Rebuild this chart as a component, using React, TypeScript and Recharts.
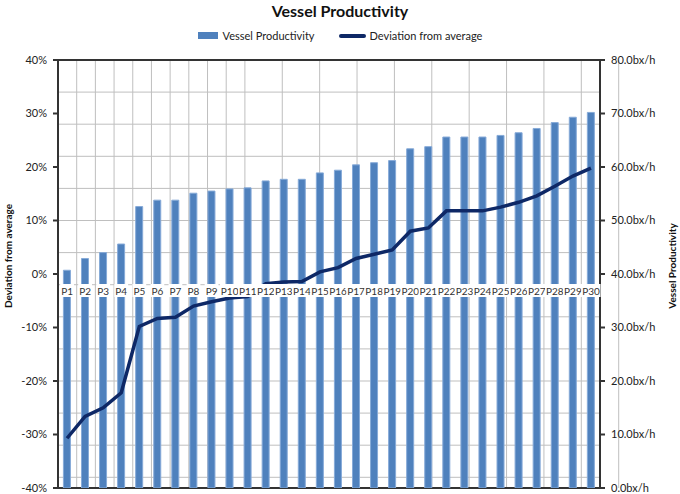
import React from 'react';
import {
  ComposedChart,
  Bar,
  Line,
  XAxis,
  YAxis,
  CartesianGrid,
  ReferenceArea,
  Legend,
  LabelList,
} from 'recharts';

const categories = [
  'P1', 'P2', 'P3', 'P4', 'P5', 'P6', 'P7', 'P8', 'P9', 'P10',
  'P11', 'P12', 'P13', 'P14', 'P15', 'P16', 'P17', 'P18', 'P19', 'P20',
  'P21', 'P22', 'P23', 'P24', 'P25', 'P26', 'P27', 'P28', 'P29', 'P30',
];

const productivity = [
  40.7, 42.9, 44.0, 45.6, 52.6, 53.8, 53.8, 55.1, 55.5, 55.9,
  56.1, 57.4, 57.7, 57.7, 58.9, 59.4, 60.4, 60.8, 61.2, 63.4,
  63.8, 65.6, 65.6, 65.6, 65.9, 66.4, 67.2, 68.3, 69.3, 70.2,
];

const deviation = [
  -30.7, -26.6, -25.0, -22.2, -9.8, -8.3, -8.1, -6.0, -5.2, -4.5,
  -4.2, -1.8, -1.5, -1.4, 0.4, 1.2, 2.9, 3.7, 4.5, 8.0,
  8.6, 11.8, 11.8, 11.8, 12.5, 13.4, 14.6, 16.4, 18.3, 19.8,
];

// category labels sit on the 0% line
const labelRow = [
  0, 0, 0, 0, 0, 0, 0, 0, 0, 0,
  0, 0, 0, 0, 0, 0, 0, 0, 0, 0,
  0, 0, 0, 0, 0, 0, 0, 0, 0, 0,
];

const deviationTicks = [-40, -30, -20, -10, 0, 10, 20, 30, 40];
const productivityTicks = [0, 10, 20, 30, 40, 50, 60, 70, 80];
const minorGridTicks = [
  -40, -38, -36, -34, -32, -30, -28, -26, -24, -22, -20, -18, -16, -14, -12,
  -10, -8, -6, -4, -2, 0, 2, 4, 6, 8, 10, 12, 14, 16, 18, 20, 22, 24, 26, 28,
  30, 32, 34, 36, 38, 40,
];
const categoryBoundaries = [
  0, 1, 2, 3, 4, 5, 6, 7, 8, 9, 10, 11, 12, 13, 14, 15,
  16, 17, 18, 19, 20, 21, 22, 23, 24, 25, 26, 27, 28, 29, 30,
];

const data = categories.map((name, i) => ({
  name,
  productivity: productivity[i],
  deviation: deviation[i],
  labelRow: labelRow[i],
}));

const FONT = 'Lato, "Open Sans", sans-serif';
const BAR_COLOR = '#4F81BD';
const LINE_COLOR = '#0E2866';
const AXIS_COLOR = '#333333';
const GRID_COLOR = '#BFBFBF';

const CategoryLabel = (props: any) => {
  const { x, y, value } = props;
  if (x == null || y == null) return null;
  const text = String(value);
  const w = text.length * 5.4 + 3;
  return (
    <g>
      <rect x={x - w / 2} y={y + 10} width={w} height={13} fill="#ffffff" />
      <text
        x={x}
        y={y + 20.5}
        textAnchor="middle"
        fontSize={10}
        fill="#333"
        fontFamily={FONT}
      >
        {text}
      </text>
    </g>
  );
};

const LegendContent = () => (
  <div
    style={{
      display: 'flex',
      justifyContent: 'center',
      alignItems: 'center',
      fontFamily: FONT,
      fontSize: 11,
      color: '#222',
    }}
  >
    <div style={{ display: 'flex', alignItems: 'center', marginRight: 24 }}>
      <span
        style={{
          display: 'inline-block',
          width: 20,
          height: 7,
          background: BAR_COLOR,
          marginRight: 5,
        }}
      />
      <span>Vessel Productivity</span>
    </div>
    <div style={{ display: 'flex', alignItems: 'center' }}>
      <span
        style={{
          display: 'inline-block',
          width: 27,
          height: 4,
          borderRadius: 2,
          background: LINE_COLOR,
          marginRight: 4,
        }}
      />
      <span>Deviation from average</span>
    </div>
  </div>
);

const AxisTitle = (props: any) => {
  const { viewBox, value, dxPos, cy } = props;
  if (!viewBox) return null;
  const x = viewBox.x + dxPos;
  const y = cy;
  return (
    <text
      x={x}
      y={y}
      transform={`rotate(-90, ${x}, ${y})`}
      textAnchor="middle"
      dominantBaseline="central"
      fontSize={10}
      fontWeight={700}
      fill="#111"
      fontFamily={FONT}
    >
      {value}
    </text>
  );
};

export default function App() {
  return (
    <div style={{ position: 'absolute', left: 0, top: 0, width: 680, height: 494 }}>
      <div
        style={{
          position: 'absolute',
          left: 0,
          top: 0,
          width: 680,
          textAlign: 'center',
          fontFamily: FONT,
          fontWeight: 700,
          fontSize: 16,
          lineHeight: '22px',
          color: '#111',
        }}
      >
        Vessel Productivity
      </div>
      <ComposedChart
        width={680}
        height={494}
        data={data}
        margin={{ top: 60, right: 0, bottom: 6, left: 0 }}
        barCategoryGap="30%"
      >
        <CartesianGrid
          xAxisId="grid"
          yAxisId="grid"
          stroke={GRID_COLOR}
          strokeWidth={1}
        />
        <XAxis dataKey="name" hide height={0} />
        <XAxis
          xAxisId="grid"
          type="number"
          domain={[0, 30]}
          ticks={categoryBoundaries}
          allowDataOverflow
          hide
          height={0}
        />
        <YAxis
          yAxisId="left"
          orientation="left"
          width={58}
          domain={[-40, 40]}
          ticks={deviationTicks}
          tickFormatter={(v: number) => `${v}%`}
          axisLine={{ stroke: AXIS_COLOR, strokeWidth: 2 }}
          tickLine={{ stroke: AXIS_COLOR, strokeWidth: 2 }}
          stroke={AXIS_COLOR}
          tickSize={5}
          tickMargin={6}
          tick={{ fontSize: 11, fill: '#222', fontFamily: FONT }}
          allowDataOverflow
          label={(p: any) => (
            <AxisTitle {...p} value="Deviation from average" dxPos={8} cy={256} />
          )}
        />
        <YAxis
          yAxisId="grid"
          orientation="left"
          domain={[-40, 40]}
          ticks={minorGridTicks}
          allowDataOverflow
          hide
          width={0}
        />
        <YAxis
          yAxisId="right"
          orientation="right"
          width={80}
          domain={[0, 80]}
          ticks={productivityTicks}
          tickFormatter={(v: number) => `${v.toFixed(1)}bx/h`}
          axisLine={{ stroke: AXIS_COLOR, strokeWidth: 2 }}
          tickLine={{ stroke: AXIS_COLOR, strokeWidth: 2 }}
          stroke={AXIS_COLOR}
          tickSize={5}
          tickMargin={6}
          tick={{ fontSize: 11, fill: '#222', fontFamily: FONT, textAnchor: 'start' }}
          allowDataOverflow
          label={(p: any) => (
            <AxisTitle {...p} value="Vessel Productivity" dxPos={72} cy={266} />
          )}
        />
        <ReferenceArea
          yAxisId="left"
          y1={-40}
          y2={40}
          fill="none"
          fillOpacity={0}
          stroke={AXIS_COLOR}
          strokeWidth={2}
        />
        <Legend
          layout="horizontal"
          verticalAlign="middle"
          align="center"
          wrapperStyle={{ top: 29, left: 0, width: 680 }}
          content={() => <LegendContent />}
        />
        <Bar
          yAxisId="right"
          dataKey="productivity"
          name="Vessel Productivity"
          fill={BAR_COLOR}
          stroke="#86AAD8"
          strokeWidth={1}
          isAnimationActive={false}
        />
        <Line
          yAxisId="left"
          dataKey="deviation"
          name="Deviation from average"
          stroke={LINE_COLOR}
          strokeWidth={3.5}
          dot={false}
          activeDot={false}
          type="linear"
          isAnimationActive={false}
        />
        <Line
          yAxisId="left"
          dataKey="labelRow"
          stroke="none"
          dot={false}
          activeDot={false}
          legendType="none"
          isAnimationActive={false}
        >
          <LabelList dataKey="name" content={(p: any) => <CategoryLabel {...p} />} />
        </Line>
      </ComposedChart>
    </div>
  );
}
